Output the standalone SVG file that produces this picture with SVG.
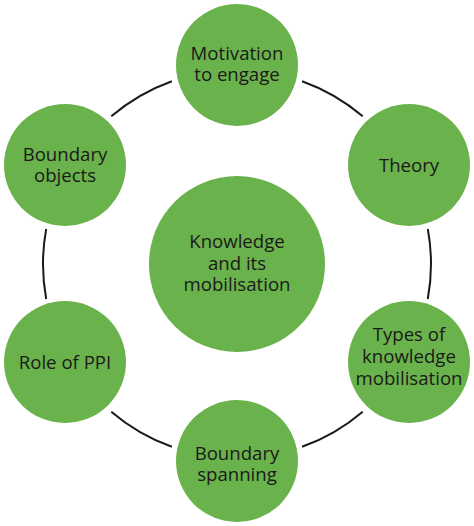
<svg xmlns="http://www.w3.org/2000/svg" width="474" height="526" viewBox="0 0 474 526">
<style>
.node{fill:#6ab24b}
.lbl{font-family:"Open Sans","Noto Sans",sans-serif;font-size:18.6px;fill:#1a1a1a;text-anchor:middle}
.arc{fill:none;stroke:#1a1a1a;stroke-width:2}
</style>
<rect width="474" height="526" fill="#ffffff"/>
<g id="connectors">
<path class="arc" d="M302.1 81.2 A194 194 0 0 1 362.7 116.3"/>
<path class="arc" d="M427.8 229 A194 194 0 0 1 427.8 299"/>
<path class="arc" d="M362.7 411.7 A194 194 0 0 1 302.1 446.8"/>
<path class="arc" d="M171.9 446.8 A194 194 0 0 1 111.3 411.7"/>
<path class="arc" d="M46.2 299 A194 194 0 0 1 46.2 229"/>
<path class="arc" d="M111.3 116.3 A194 194 0 0 1 171.9 81.2"/>
</g>
<g id="center">
<circle class="node" cx="237" cy="264" r="88"/>
<text class="lbl"><tspan x="237" y="248">Knowledge</tspan><tspan x="237" y="269.5">and its</tspan><tspan x="237" y="291">mobilisation</tspan></text>
</g>
<g id="motivation">
<circle class="node" cx="237" cy="65" r="61"/>
<text class="lbl"><tspan x="237" y="60">Motivation</tspan><tspan x="237" y="81">to engage</tspan></text>
</g>
<g id="theory">
<circle class="node" cx="409" cy="165" r="61"/>
<text class="lbl" x="409" y="172">Theory</text>
</g>
<g id="types">
<circle class="node" cx="409" cy="362" r="61"/>
<text class="lbl"><tspan x="409" y="341">Types of</tspan><tspan x="409" y="363">knowledge</tspan><tspan x="409" y="385">mobilisation</tspan></text>
</g>
<g id="spanning">
<circle class="node" cx="237" cy="461" r="61"/>
<text class="lbl"><tspan x="237" y="460">Boundary</tspan><tspan x="237" y="481">spanning</tspan></text>
</g>
<g id="ppi">
<circle class="node" cx="65" cy="362" r="61"/>
<text class="lbl" x="65" y="369">Role of PPI</text>
</g>
<g id="objects">
<circle class="node" cx="65" cy="165" r="61"/>
<text class="lbl"><tspan x="65" y="161">Boundary</tspan><tspan x="65" y="182">objects</tspan></text>
</g>
</svg>
